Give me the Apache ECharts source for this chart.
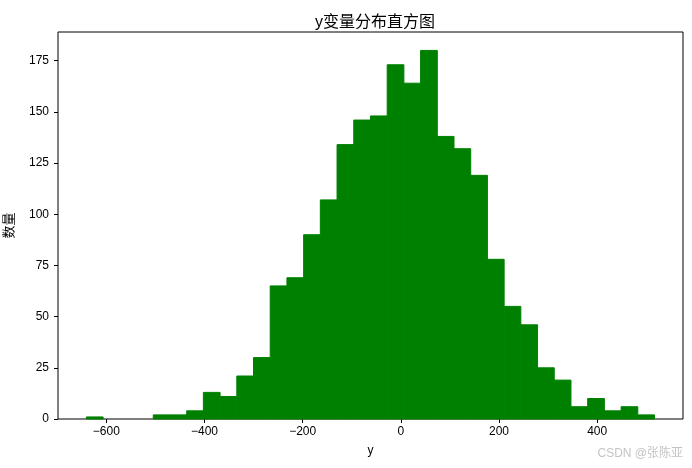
<!DOCTYPE html>
<html>

<head>
    <meta charset="utf-8">
    <title>y变量分布直方图</title>
    <style>
        html, body { margin: 0; padding: 0; background: #fff; }
        #main { width: 692px; height: 468px; }
    </style>
</head>

<body>
    <div id="main"></div>
    <script src="https://cdn.jsdelivr.net/npm/echarts@6/dist/echarts.min.js"></script>
    <script>
    // histogram counts, 34 bins
    var counts = [1, 0, 0, 0, 2, 2, 4, 13, 11, 21, 30, 65, 69, 90, 107, 134, 146, 148,
        173, 164, 180, 138, 132, 119, 78, 55, 46, 25, 19, 6, 10, 4, 6, 2];
    var binStart = -640.6;
    var binWidth = 34.04;
    var xTicks = [-600, -400, -200, 0, 200, 400];
    var yTicks = [0, 25, 50, 75, 100, 125, 150, 175];

    var bins = [];
    counts.forEach(function (c, i) {
        var x0 = binStart + i * binWidth;
        bins.push([x0, x0 + binWidth, c]);
    });

    var font = '"Liberation Sans", "Noto Sans CJK SC", sans-serif';
    var minus = function (v) { return String(v).replace('-', '\u2212'); };

    var chart = echarts.init(document.getElementById('main'));
    chart.setOption({
        animation: false,
        title: {
            text: 'y变量分布直方图',
            left: 370, textAlign: 'center', top: 10,
            textStyle: { fontFamily: font, fontSize: 16, fontWeight: 'normal', color: '#000' }
        },
        grid: {
            left: 58, right: 9, top: 32, bottom: 49,
            outerBoundsMode: 'none', containLabel: false,
            show: true, borderColor: '#000', borderWidth: 1, backgroundColor: '#fff'
        },
        xAxis: {
            type: 'value', min: -698.5, max: 574.8,
            name: 'y', nameLocation: 'middle', nameGap: 26,
            nameTextStyle: { fontFamily: font, fontSize: 12, color: '#000' },
            splitLine: { show: false },
            axisLine: { show: false, onZero: false },
            axisTick: { show: true, inside: false, length: 4, lineStyle: { color: '#000' }, customValues: xTicks },
            axisLabel: { fontFamily: font, fontSize: 12, color: '#000', margin: 7, customValues: xTicks, formatter: minus }
        },
        yAxis: {
            type: 'value', min: 0, max: 189,
            name: '数量', nameLocation: 'middle', nameGap: 42, nameRotate: 90,
            nameMoveOverlap: false,
            nameTextStyle: { fontFamily: font, fontSize: 13, color: '#000' },
            splitLine: { show: false },
            axisLine: { show: false, onZero: false },
            axisTick: { show: true, inside: false, length: 4, lineStyle: { color: '#000' }, customValues: yTicks },
            axisLabel: { fontFamily: font, fontSize: 12, color: '#000', margin: 9, customValues: yTicks }
        },
        series: [{
            type: 'custom',
            data: bins,
            encode: { x: [0, 1], y: 2 },
            renderItem: function (params, api) {
                var v = api.value(2);
                if (!v) return null;
                var p0 = api.coord([api.value(0), v]);
                var p1 = api.coord([api.value(1), 0]);
                return {
                    type: 'rect',
                    shape: { x: p0[0], y: p0[1], width: p1[0] - p0[0], height: p1[1] - p0[1] },
                    style: { fill: '#008000', stroke: '#008000', lineWidth: 1 }
                };
            }
        }],
        graphic: [{
            type: 'text', right: 9, bottom: 8,
            style: { text: 'CSDN @张陈亚', fill: '#c4c4c4', fontSize: 12, fontFamily: font }
        }]
    });
    </script>
</body>

</html>
